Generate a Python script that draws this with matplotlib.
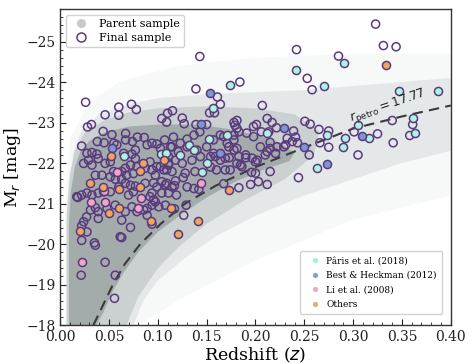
import matplotlib
matplotlib.use("Agg")
import matplotlib.pyplot as plt
from matplotlib.lines import Line2D
from matplotlib.ticker import MultipleLocator

plt.rcParams['font.family'] = ['DejaVu Serif']
plt.rcParams['mathtext.fontset'] = 'dejavusans'

# ---------------- data ----------------
# parent-sample density regions (outline vertices, z / M_r)
outer_z = [0.005, 0.005, 0.010, 0.030, 0.060, 0.120, 0.200, 0.300, 0.400, 0.400, 0.300, 0.200, 0.120, 0.080]
outer_m = [-18.0, -21.0, -22.6, -23.5, -24.0, -24.4, -24.6, -24.7, -24.7, -21.2, -20.6, -19.6, -18.6, -18.0]

band_z = [0.006, 0.006, 0.009, 0.014, 0.022, 0.040, 0.070, 0.100, 0.150, 0.200, 0.250, 0.300, 0.350, 0.400,
          0.400, 0.350, 0.300, 0.250, 0.200, 0.160, 0.130, 0.100, 0.085, 0.075]
band_m = [-18.0, -20.5, -21.6, -22.3, -22.8, -23.2, -23.45, -23.6, -23.7, -23.75, -23.8, -23.9, -24.0, -24.1,
          -22.3, -22.0, -21.6, -21.2, -20.7, -20.2, -19.7, -19.1, -18.6, -18.0]

halo_z = [0.007, 0.007, 0.010, 0.015, 0.025, 0.045, 0.070, 0.100, 0.150, 0.200, 0.240, 0.265,
          0.260, 0.230, 0.190, 0.150, 0.120, 0.100, 0.080, 0.068]
halo_m = [-18.0, -20.8, -21.7, -22.3, -22.75, -23.05, -23.25, -23.35, -23.4, -23.35, -23.2, -22.8,
          -22.2, -21.6, -21.1, -20.5, -19.9, -19.4, -18.7, -18.0]

core_z = [0.009, 0.009, 0.011, 0.015, 0.021, 0.030, 0.045, 0.070, 0.100, 0.140, 0.170, 0.200, 0.225, 0.240,
          0.235, 0.210, 0.180, 0.150, 0.125, 0.100, 0.080, 0.065, 0.053, 0.044, 0.037]
core_m = [-18.0, -20.5, -21.3, -21.9, -22.3, -22.55, -22.75, -22.9, -22.95, -22.95, -22.85, -22.7, -22.5, -22.25,
          -22.05, -21.85, -21.55, -21.15, -20.75, -20.3, -19.8, -19.3, -18.8, -18.3, -18.0]

# r_petro = 17.77 limit (dashed curve)
limit_z = [0.034, 0.044, 0.054, 0.066, 0.082, 0.103, 0.128, 0.160, 0.200, 0.250, 0.300, 0.350, 0.400]
limit_m = [-18.0, -18.5, -19.0, -19.5, -20.0, -20.5, -21.0, -21.45, -21.9, -22.38, -22.85, -23.15, -23.42]

# final sample (purple open circles)
final_z = [0.143, 0.139, 0.161, 0.164, 0.153, 0.158, 0.184, 0.026, 0.060, 0.060, 0.073, 0.078, 0.046, 0.028,
           0.032, 0.044, 0.022, 0.038, 0.053, 0.055, 0.067, 0.067, 0.074, 0.079, 0.086, 0.104, 0.109, 0.110,
           0.115, 0.125, 0.127, 0.139, 0.150, 0.179, 0.181,
           0.323, 0.331, 0.344, 0.242, 0.285, 0.253, 0.258, 0.207,
           0.201, 0.212, 0.217, 0.2215, 0.206, 0.2136, 0.2506, 0.256, 0.340, 0.361, 0.358, 0.325, 0.301, 0.265,
           0.275, 0.266, 0.275, 0.341, 0.305, 0.255, 0.244, 0.215, 0.239, 0.241, 0.243, 0.183, 0.195, 0.203,
           0.212, 0.196, 0.186, 0.1675,
           0.178, 0.181, 0.191, 0.198, 0.198, 0.1675, 0.178, 0.2325, 0.215, 0.222, 0.229, 0.205, 0.2205, 0.212,
           0.2017, 0.190, 0.183, 0.1846, 0.169, 0.173, 0.159, 0.154, 0.154, 0.160, 0.169, 0.174, 0.128, 0.138,
           0.126, 0.118, 0.130, 0.137, 0.142, 0.200,
           0.1726, 0.181, 0.190, 0.1966, 0.200, 0.210, 0.215, 0.231, 0.2376, 0.129, 0.1265, 0.117, 0.1077,
           0.117, 0.111, 0.118,
           0.094, 0.099, 0.107, 0.116, 0.123, 0.130, 0.137, 0.143, 0.157, 0.164, 0.171, 0.178, 0.183,
           0.1026, 0.113, 0.121, 0.130, 0.140, 0.150, 0.157, 0.1436, 0.135, 0.111, 0.125, 0.099, 0.106, 0.164,
           0.178, 0.181,
           0.077, 0.1145, 0.089, 0.058, 0.045,
           0.0274, 0.0325, 0.0376, 0.039, 0.046, 0.0513, 0.029, 0.0325, 0.024, 0.065, 0.0735, 0.077, 0.072,
           0.0786, 0.0667, 0.063, 0.0547, 0.068, 0.075, 0.087, 0.092, 0.094, 0.0974, 0.1026, 0.111, 0.109,
           0.1145, 0.017, 0.022, 0.0274, 0.0325, 0.039, 0.0444, 0.0513, 0.060, 0.0667, 0.072, 0.077, 0.087,
           0.0957, 0.099, 0.104, 0.109, 0.1145, 0.036, 0.0427, 0.0513, 0.0564, 0.063, 0.070, 0.075, 0.092,
           0.0957, 0.094, 0.104, 0.0974, 0.111, 0.031, 0.036, 0.039, 0.039, 0.048, 0.0564, 0.0667, 0.0735,
           0.0786, 0.0855, 0.089, 0.094, 0.1009, 0.1077, 0.024, 0.022, 0.0274, 0.036, 0.063, 0.072, 0.063,
           0.089,
           0.0215, 0.046, 0.0564, 0.0556, 0.035, 0.0615, 0.094, 0.119, 0.018, 0.022, 0.027]
final_m = [-24.63, -23.83, -23.63, -23.45, -23.24, -23.24, -24.0, -23.5, -23.38, -23.18, -23.45, -23.32, -23.19, -22.89,
           -22.95, -22.78, -22.42, -22.53, -22.7, -22.49, -22.73, -22.57, -22.53, -22.64, -22.63, -23.1, -23.01, -23.23,
           -23.29, -23.11, -22.97, -22.95, -22.95, -22.93, -23.05,
           -25.43, -24.9, -24.87, -24.8, -24.64, -24.09, -23.81, -23.42,
           -22.95, -23.1, -23.0, -22.87, -22.77, -22.77, -23.03, -22.96, -23.05, -22.95, -22.68, -22.72, -22.77, -22.83,
           -22.79, -22.5, -22.39, -22.5, -22.2, -22.2, -21.64, -21.79, -22.79, -22.64, -22.5, -21.39, -21.47, -21.54,
           -21.47, -21.77, -21.91, -21.49,
           -23.0, -22.86, -22.74, -22.65, -22.9, -22.65, -22.69, -22.61, -22.51, -22.4, -22.4, -22.4, -22.24, -22.28,
           -22.07, -22.13, -22.16, -21.95, -22.12, -22.13, -22.16, -22.16, -21.9, -21.83, -21.83, -21.83, -21.75, -21.79,
           -21.64, -21.56, -21.41, -21.37, -21.35, -21.75,
           -22.4, -22.36, -22.2, -22.12, -22.03, -22.2, -22.36, -22.45, -22.53, -20.96, -20.71, -20.87, -21.46,
           -21.44, -22.0, -22.07,
           -22.49, -22.47, -22.57, -22.64, -22.49, -22.59, -22.69, -22.77, -22.57, -22.69, -22.49, -22.57, -22.77,
           -22.36, -22.4, -22.28, -22.4, -22.32, -22.4, -22.24, -22.16, -22.07, -22.16, -21.99, -21.91, -21.83, -22.07,
           -22.32, -21.99,
           -22.32, -22.4, -22.45, -22.45, -22.5,
           -22.24, -22.26, -22.22, -22.11, -21.99, -22.03, -22.07, -21.95, -21.99, -22.24, -22.22, -22.11, -21.95,
           -21.91, -21.87, -21.79, -21.79, -21.7, -21.74, -21.87, -22.03, -21.83, -21.7, -21.91, -21.95, -21.83,
           -21.79, -21.17, -21.21, -21.26, -21.21, -21.26, -21.29, -21.29, -21.41, -21.5, -21.45, -21.43, -21.5,
           -21.51, -21.41, -21.54, -21.5, -21.41, -21.7, -21.7, -21.66, -21.6, -21.6, -21.21, -21.29, -21.17,
           -21.09, -21.26, -21.26, -21.04, -21.26, -20.84, -20.9, -20.8, -20.63, -20.88, -20.96, -20.8, -20.92,
           -20.8, -20.84, -20.88, -20.96, -20.92, -20.96, -20.55, -20.09, -20.3, -19.97, -20.59, -20.41, -20.16,
           -20.71,
           -19.23, -19.55, -19.23, -18.66, -20.03, -20.18, -20.49, -21.21, -21.15, -20.45, -20.67]

# counterparts in the literature
paris_z = [0.156, 0.174, 0.241, 0.291, 0.270, 0.347, 0.387, 0.305, 0.361, 0.363, 0.316, 0.292, 0.273, 0.290,
           0.263, 0.145, 0.150, 0.1316, 0.123, 0.137, 0.065, 0.1036, 0.1087, 0.171, 0.152, 0.212]
paris_m = [-23.35, -23.93, -24.29, -24.48, -23.89, -23.77, -23.78, -22.94, -23.1, -22.74, -22.63, -22.63, -22.69, -22.4,
           -21.87, -21.77, -22.0, -22.45, -22.2, -22.32, -22.17, -22.22, -22.25, -22.69, -22.59, -22.75]

best_z = [0.153, 0.309, 0.273, 0.250, 0.164, 0.053, 0.144, 0.229]
best_m = [-23.73, -22.66, -21.98, -22.4, -22.25, -22.36, -22.96, -22.86]

li_z = [0.058, 0.045, 0.032, 0.046, 0.080, 0.083, 0.022, 0.1446]
li_m = [-21.78, -21.3, -21.04, -21.04, -20.9, -21.13, -19.55, -21.5]

others_z = [0.334, 0.173, 0.141, 0.121, 0.1135, 0.031, 0.044, 0.060, 0.082, 0.0496, 0.060, 0.0933, 0.0205,
            0.085, 0.082, 0.106, 0.052]
others_m = [-24.43, -21.33, -20.57, -20.24, -20.9, -21.5, -21.4, -21.37, -21.4, -20.77, -20.88, -20.57, -20.32,
            -21.99, -21.8, -22.07, -22.17]

limit_label = r"$r_{\rm petro} = 17.77$"
legend1_labels = ["Parent sample", "Final sample"]
legend2_labels = ["P\u00e2ris et al. (2018)", "Best & Heckman (2012)", "Li et al. (2008)", "Others"]
xtick_vals = [0.0, 0.05, 0.10, 0.15, 0.20, 0.25, 0.30, 0.35, 0.40]
ytick_vals = [-18, -19, -20, -21, -22, -23, -24, -25]

# ---------------- styling ----------------
purple = '#5a3a7e'
c_paris = '#aef3de'
c_best = '#7b98d4'
c_li = '#f3a5c4'
c_oth = '#f1a55a'

fig = plt.figure(figsize=(4.74, 3.64), dpi=100)
ax = fig.add_axes([0.127, 0.107, 0.824, 0.868])

# parent sample density
ax.fill(outer_z, outer_m, facecolor='#f7f8f8', lw=0, zorder=1)
ax.fill(band_z, band_m, facecolor='#e5e8e8', lw=0, zorder=1.1)
ax.fill(halo_z, halo_m, facecolor='#cbd0d0', lw=0, zorder=1.2)
ax.fill(core_z, core_m, facecolor='#a3abab', lw=0, zorder=1.3)

# flux limit
ax.plot(limit_z, limit_m, ls=(0, (5, 3)), color='#3a3a3a', lw=1.5, zorder=2)
ax.text(0.300, -22.88, limit_label, rotation=19, fontsize=9, color='#222222',
        ha='left', va='bottom', zorder=5, rotation_mode='anchor')

# final sample
ax.scatter(final_z, final_m, s=34, facecolors='none', edgecolors=purple, linewidths=1.1, zorder=3)
for zz, mm, cc in [(paris_z, paris_m, c_paris), (best_z, best_m, c_best),
                   (li_z, li_m, c_li), (others_z, others_m, c_oth)]:
    ax.scatter(zz, mm, s=34, facecolors=cc, edgecolors=purple, linewidths=1.1, zorder=4)

ax.set_xlim(0.0, 0.4)
ax.set_ylim(-18.0, -25.8)
ax.set_xticks(xtick_vals)
ax.set_xticklabels(['%.2f' % v for v in xtick_vals])
ax.set_yticks(ytick_vals)
ax.set_yticklabels(['\u2212%d' % abs(v) for v in ytick_vals])
ax.xaxis.set_minor_locator(MultipleLocator(0.01))
ax.yaxis.set_minor_locator(MultipleLocator(0.2))
ax.tick_params(which='both', direction='in', labelsize=10, colors='#222222')
ax.tick_params(which='major', length=4)
ax.tick_params(which='minor', length=2)
for sp in ax.spines.values():
    sp.set_color('#333333')
    sp.set_linewidth(1.0)

ax.set_xlabel('Redshift ($z$)', fontsize=12.5, labelpad=1)
ax.set_ylabel('M$_r$ [mag]', fontsize=12.5, labelpad=2)

h1 = [Line2D([], [], ls='none', marker='o', ms=5.5, mfc='#c9c9c9', mec='#c9c9c9'),
      Line2D([], [], ls='none', marker='o', ms=6.5, mfc='none', mec=purple, mew=1.1)]
leg1 = ax.legend(h1, legend1_labels, loc='upper left', fontsize=8, frameon=True, framealpha=0.9,
                 edgecolor='#cccccc', borderpad=0.4, handletextpad=0.6, labelspacing=0.35,
                 bbox_to_anchor=(0.0, 1.0))
leg1.set_zorder(6)
ax.add_artist(leg1)

h2 = [Line2D([], [], ls='none', marker='o', ms=3.8, mfc=cc, mec='none', alpha=0.85)
      for cc in ['#98efcf', '#6f92c8', '#e6a0b2', '#dfa24e']]
leg2 = ax.legend(h2, legend2_labels, loc='lower right', fontsize=6.5, frameon=True, framealpha=0.9,
                 edgecolor='#cccccc', borderpad=0.6, handletextpad=0.3, labelspacing=0.6,
                 bbox_to_anchor=(0.99, 0.02))
leg2.set_zorder(6)

fig.savefig('out.png', dpi=100)
